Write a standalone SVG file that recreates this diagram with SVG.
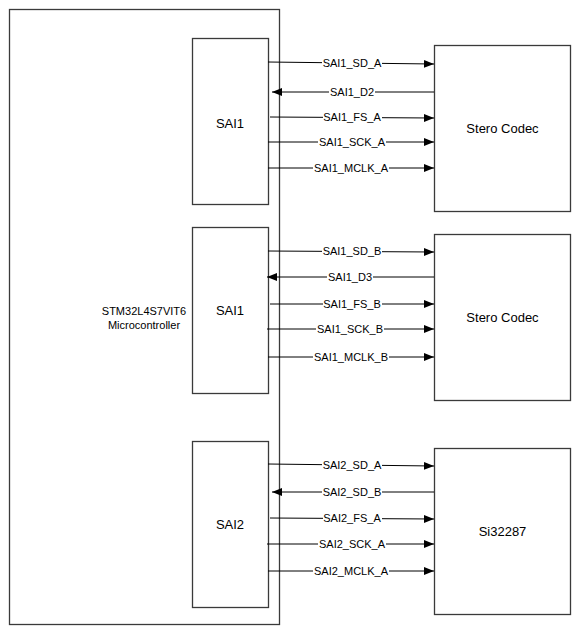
<svg xmlns="http://www.w3.org/2000/svg" width="583" height="636" viewBox="0 0 583 636">
<style>
.box{fill:#fff;stroke:#3a3a3a;stroke-width:1.3}
.lbl{font-family:"Liberation Sans",Arial,sans-serif;font-size:13px;fill:#000;text-anchor:middle}
.mcu{font-family:"Liberation Sans",Arial,sans-serif;font-size:11px;fill:#000;text-anchor:middle}
.w{stroke:#000;stroke-width:1;fill:none;marker-end:url(#ah)}
.bg{fill:#fff}
.sig{font-family:"Liberation Sans",Arial,sans-serif;font-size:11px;fill:#000;text-anchor:middle}
</style>
<defs>
<marker id="ah" markerUnits="userSpaceOnUse" markerWidth="10" markerHeight="10" viewBox="0 0 10 10" refX="10" refY="5" orient="auto">
<path d="M0,1 L10,5 L0,9 Z" fill="#000"/>
</marker>
</defs>
<rect width="583" height="636" fill="#fff"/>
<g id="mcu">
<rect class="box" x="9.5" y="9.5" width="270" height="615"/>
<text class="mcu" x="144" y="315">STM32L4S7VIT6</text>
<text class="mcu" x="144" y="329">Microcontroller</text>
</g>
<g id="sai1a">
<rect class="box" x="192.5" y="38.5" width="76" height="166"/>
<text class="lbl" x="230" y="127.5">SAI1</text>
</g>
<g id="sai1b">
<rect class="box" x="192.5" y="227.5" width="76" height="166"/>
<text class="lbl" x="230" y="314.5">SAI1</text>
</g>
<g id="sai2">
<rect class="box" x="192.5" y="441.5" width="76" height="166"/>
<text class="lbl" x="230" y="529">SAI2</text>
</g>
<g id="codec1">
<rect class="box" x="434.5" y="45.5" width="136" height="166"/>
<text class="lbl" x="502.5" y="133">Stero Codec</text>
</g>
<g id="codec2">
<rect class="box" x="434.5" y="234.5" width="136" height="166"/>
<text class="lbl" x="502.5" y="322">Stero Codec</text>
</g>
<g id="si32287">
<rect class="box" x="434.5" y="448.5" width="136" height="166"/>
<text class="lbl" x="502.5" y="536">Si32287</text>
</g>
<g id="connectors">
<line class="w" x1="268" y1="62" x2="434" y2="64"/>
<line class="w" x1="434" y1="92" x2="272" y2="92"/>
<line class="w" x1="270" y1="117" x2="434" y2="118"/>
<line class="w" x1="268" y1="142" x2="434" y2="142"/>
<line class="w" x1="268" y1="168" x2="434" y2="168"/>
<line class="w" x1="268" y1="251" x2="434" y2="252"/>
<line class="w" x1="434" y1="277" x2="267" y2="277"/>
<line class="w" x1="270" y1="304" x2="434" y2="304"/>
<line class="w" x1="267" y1="329" x2="434" y2="329"/>
<line class="w" x1="268" y1="357" x2="434" y2="357"/>
<line class="w" x1="268" y1="464" x2="434" y2="466"/>
<line class="w" x1="434" y1="492" x2="272" y2="492"/>
<line class="w" x1="270" y1="518" x2="434" y2="519"/>
<line class="w" x1="267" y1="544" x2="434" y2="544"/>
<line class="w" x1="268" y1="571" x2="434" y2="571"/>
<rect class="bg" x="322" y="56.5" width="60" height="13"/>
<rect class="bg" x="329" y="85.5" width="46" height="13"/>
<rect class="bg" x="323" y="111" width="59" height="13"/>
<rect class="bg" x="318" y="135.5" width="68" height="13"/>
<rect class="bg" x="313" y="161.5" width="76" height="13"/>
<rect class="bg" x="322" y="245" width="60" height="13"/>
<rect class="bg" x="327" y="270.5" width="46" height="13"/>
<rect class="bg" x="323" y="297.5" width="59" height="13"/>
<rect class="bg" x="316" y="322.5" width="68" height="13"/>
<rect class="bg" x="313" y="350.5" width="76" height="13"/>
<rect class="bg" x="322" y="458.5" width="60" height="13"/>
<rect class="bg" x="322" y="485.5" width="60" height="13"/>
<rect class="bg" x="323" y="512" width="59" height="13"/>
<rect class="bg" x="318" y="537.5" width="68" height="13"/>
<rect class="bg" x="313" y="564.5" width="76" height="13"/>
<text class="sig" x="352" y="67">SAI1_SD_A</text>
<text class="sig" x="352" y="96">SAI1_D2</text>
<text class="sig" x="352" y="121">SAI1_FS_A</text>
<text class="sig" x="352" y="146">SAI1_SCK_A</text>
<text class="sig" x="351" y="172">SAI1_MCLK_A</text>
<text class="sig" x="352" y="255">SAI1_SD_B</text>
<text class="sig" x="350" y="281">SAI1_D3</text>
<text class="sig" x="352" y="308">SAI1_FS_B</text>
<text class="sig" x="350" y="333">SAI1_SCK_B</text>
<text class="sig" x="351" y="361">SAI1_MCLK_B</text>
<text class="sig" x="352" y="469">SAI2_SD_A</text>
<text class="sig" x="352" y="496">SAI2_SD_B</text>
<text class="sig" x="352" y="522">SAI2_FS_A</text>
<text class="sig" x="352" y="548">SAI2_SCK_A</text>
<text class="sig" x="351" y="575">SAI2_MCLK_A</text>
</g>
</svg>
